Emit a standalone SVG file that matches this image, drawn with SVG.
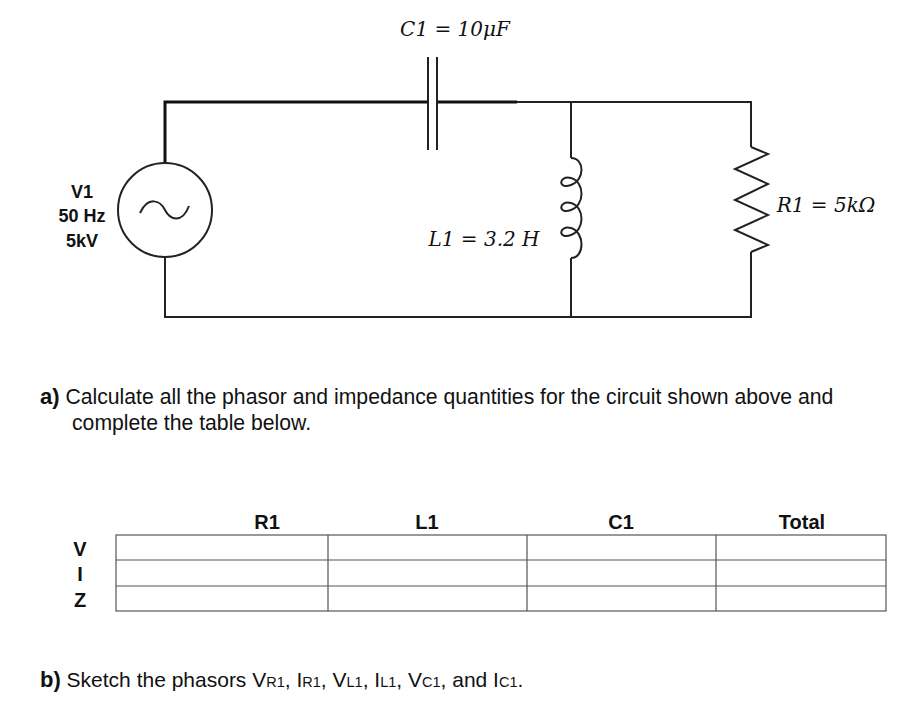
<svg xmlns="http://www.w3.org/2000/svg" width="924" height="728" viewBox="0 0 924 728">
<style>
.w{fill:none;stroke:#222;stroke-width:2}
.tw{fill:none;stroke:#111;stroke-width:3}
.m{font-family:"DejaVu Serif","Liberation Serif",serif;font-style:italic;font-size:20px;fill:#111}
.s{font-family:"Liberation Sans",Arial,sans-serif;fill:#111}
.b{font-weight:bold}
.g{fill:none;stroke:#555;stroke-width:1.2}
</style>
<rect width="924" height="728" fill="#fff"/>
<g id="connectors">
<path class="tw" d="M165,163 V102 H428 M437,102 H517"/>
<path class="w" d="M517,102 H751 V147 M751,252 V317 H165 V257 M571,102 V158 M571,258 V317"/>
</g>
<g id="V1">
<circle class="w" cx="165" cy="210" r="47"/>
<path class="w" d="M140,213 C148,196 160,200 165,210 C170,220 182,224 189,206"/>
<text class="s b" x="82" y="198" font-size="18" text-anchor="middle">V1</text>
<text class="s b" x="82" y="222" font-size="18" text-anchor="middle">50 Hz</text>
<text class="s b" x="82" y="247" font-size="18" text-anchor="middle">5kV</text>
</g>
<g id="C1">
<path class="w" d="M428,57 V150 M437,57 V150"/>
<text class="m" x="455" y="36" text-anchor="middle">C1 = 10μF</text>
</g>
<g id="L1">
<path class="w" d="M571,158 C585,158 585,180 571,185 C558,190 558,175 571,178 C585,182 585,205 571,210 C558,215 558,200 571,203 C585,207 585,230 571,235 C558,240 558,225 571,228 C585,232 585,258 571,258"/>
<text class="m" x="484" y="246" text-anchor="middle">L1 = 3.2 H</text>
</g>
<g id="R1">
<path class="w" d="M751,147 L768,154 L735,169 L768,184 L735,200 L768,215 L735,230 L768,245 L751,252"/>
<text class="m" x="826" y="212" text-anchor="middle">R1 = 5kΩ</text>
</g>
<g id="question-a">
<text class="s" x="40" y="404" font-size="21.2"><tspan class="b" font-size="22">a)</tspan> Calculate all the phasor and impedance quantities for the circuit shown above and</text>
<text class="s" x="72" y="430" font-size="21.2">complete the table below.</text>
</g>
<g id="table">
<rect class="g" x="116" y="535" width="770" height="76"/>
<path class="g" d="M116,560 H886 M116,586 H886 M328,535 V611 M527,535 V611 M716,535 V611"/>
<text class="s b" x="267" y="529" font-size="20" text-anchor="middle">R1</text>
<text class="s b" x="427" y="529" font-size="20" text-anchor="middle">L1</text>
<text class="s b" x="621" y="529" font-size="20" text-anchor="middle">C1</text>
<text class="s b" x="802" y="529" font-size="20" text-anchor="middle">Total</text>
<text class="s b" x="80" y="556" font-size="20" text-anchor="middle">V</text>
<text class="s b" x="80" y="581" font-size="20" text-anchor="middle">I</text>
<text class="s b" x="80" y="607" font-size="20" text-anchor="middle">Z</text>
</g>
<g id="question-b">
<text class="s" x="40" y="687" font-size="21"><tspan class="b" font-size="22">b)</tspan> Sketch the phasors V<tspan font-size="14.5">R1</tspan>, I<tspan font-size="14.5">R1</tspan>, V<tspan font-size="14.5">L1</tspan>, I<tspan font-size="14.5">L1</tspan>, V<tspan font-size="14.5">C1</tspan>, and I<tspan font-size="14.5">C1</tspan>.</text>
</g>
</svg>
